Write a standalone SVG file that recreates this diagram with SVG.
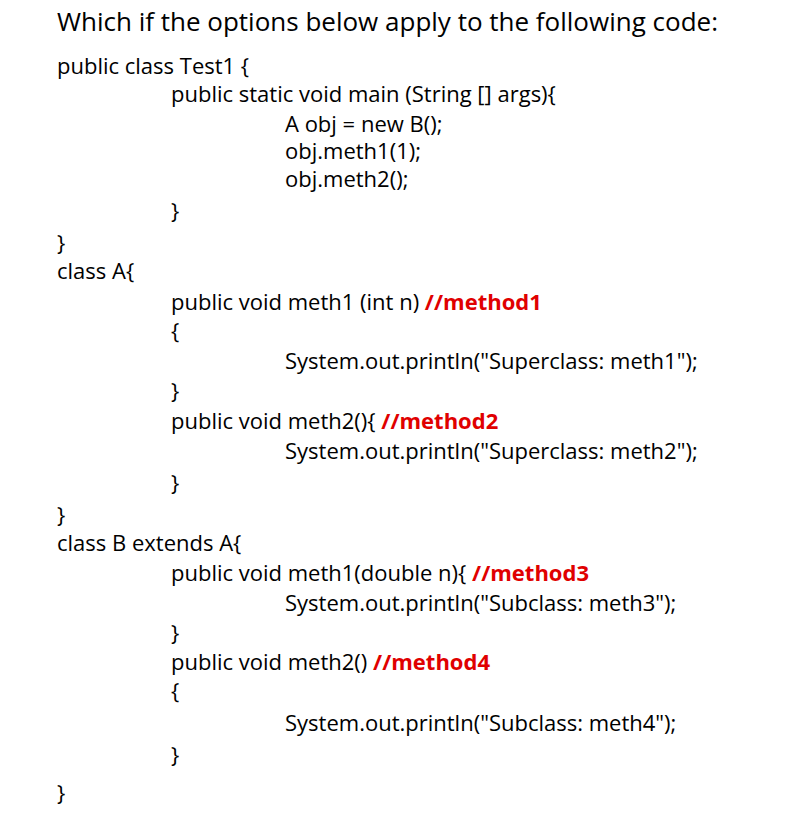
<svg xmlns="http://www.w3.org/2000/svg" width="788" height="832" viewBox="0 0 788 832">
<style>
text{font-family:"Open Sans","Noto Sans",sans-serif;font-size:22px;fill:#000}
.t{font-size:26px}
.r{fill:#e00000;font-weight:bold}
</style>
<rect width="788" height="832" fill="#fff"/>
<text class="t" x="57" y="31">Which if the options below apply to the following code:</text>
<text x="57" y="74">public class Test1 {</text>
<text x="171" y="102">public static void main (String [] args){</text>
<text x="285" y="132">A obj = new B();</text>
<text x="285" y="159">obj.meth1(1);</text>
<text x="285" y="187">obj.meth2();</text>
<text x="171" y="219">}</text>
<text x="57" y="251">}</text>
<text x="57" y="279">class A{</text>
<text x="171" y="310">public void meth1 (int n) <tspan class="r">//method1</tspan></text>
<text x="171" y="339">{</text>
<text x="285" y="369">System.out.println("Superclass: meth1");</text>
<text x="171" y="399">}</text>
<text x="171" y="429">public void meth2(){ <tspan class="r">//method2</tspan></text>
<text x="285" y="459">System.out.println("Superclass: meth2");</text>
<text x="171" y="491">}</text>
<text x="57" y="523">}</text>
<text x="57" y="551">class B extends A{</text>
<text x="171" y="581">public void meth1(double n){ <tspan class="r">//method3</tspan></text>
<text x="285" y="611">System.out.println("Subclass: meth3");</text>
<text x="171" y="641">}</text>
<text x="171" y="670">public void meth2() <tspan class="r">//method4</tspan></text>
<text x="171" y="699">{</text>
<text x="285" y="731">System.out.println("Subclass: meth4");</text>
<text x="171" y="763">}</text>
<text x="57" y="801">}</text>
</svg>
